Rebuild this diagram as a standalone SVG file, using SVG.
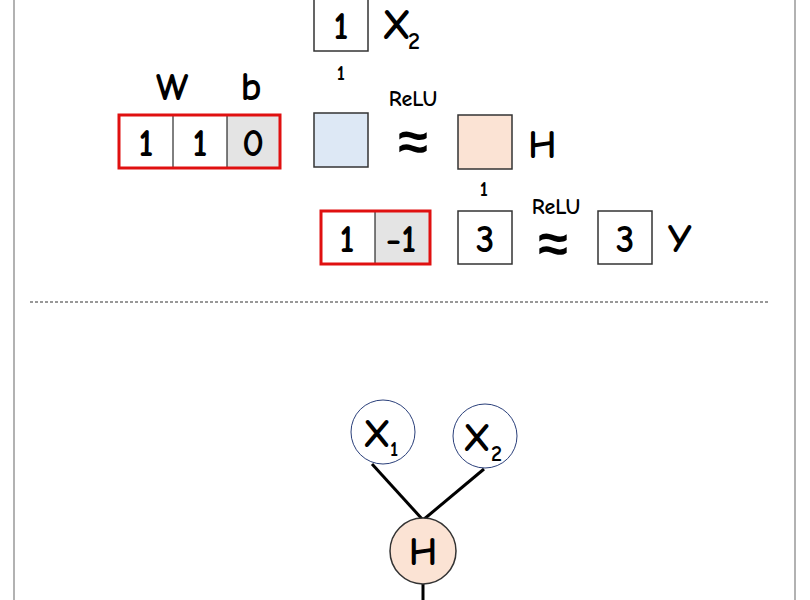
<svg xmlns="http://www.w3.org/2000/svg" width="810" height="600" viewBox="0 0 810 600">
<style>
.t{font-family:"Comic Neue","Liberation Sans",sans-serif;fill:#000;font-weight:bold}
.b{fill:#fff;stroke:#333;stroke-width:1.5}
.r{fill:none;stroke:#e01010;stroke-width:3}
.c{stroke:#000;stroke-width:3}
</style>
<rect width="810" height="600" fill="#fff"/>
<line x1="14" y1="0" x2="14" y2="600" stroke="#999" stroke-width="1.5"/>
<line x1="795" y1="0" x2="795" y2="600" stroke="#999" stroke-width="1.5"/>
<line x1="30" y1="302" x2="770" y2="302" stroke="#333" stroke-dasharray="3,2"/>
<g id="x2box"><rect class="b" x="314" y="-2" width="54" height="53"/><text class="t" x="341" y="39" font-size="38" text-anchor="middle">1</text><text class="t" x="382" y="39" font-size="42">X</text><text class="t" x="408" y="49" font-size="24">2</text><text class="t" x="341" y="80" font-size="21" text-anchor="middle">1</text></g>
<g id="wb"><text class="t" x="172" y="100" font-size="38" text-anchor="middle">W</text><text class="t" x="251" y="100" font-size="40" text-anchor="middle">b</text>
<rect x="227" y="115" width="53" height="53" fill="#e4e4e4"/><line x1="173" y1="115" x2="173" y2="168" stroke="#000"/><line x1="227" y1="115" x2="227" y2="168" stroke="#000"/><rect class="r" x="119" y="115" width="161" height="53"/>
<text class="t" x="146" y="156" font-size="38" text-anchor="middle">1</text><text class="t" x="200" y="156" font-size="38" text-anchor="middle">1</text><text class="t" x="253" y="156" font-size="38" text-anchor="middle">0</text></g>
<g id="blue"><rect x="314" y="113" width="54" height="54" fill="#dde8f5" stroke="#333" stroke-width="1.5"/></g>
<g id="relu1"><text class="t" x="413" y="106" font-size="22" text-anchor="middle">ReLU</text><text class="t" x="413" y="160" font-size="54" text-anchor="middle">≈</text></g>
<g id="h"><rect x="458" y="115" width="54" height="54" fill="#fbe3d4" stroke="#333" stroke-width="1.5"/><text class="t" x="528" y="158" font-size="40">H</text><text class="t" x="484" y="196" font-size="21" text-anchor="middle">1</text></g>
<g id="w2"><rect x="375" y="211" width="55" height="53" fill="#e4e4e4"/><line x1="375" y1="211" x2="375" y2="264" stroke="#000"/><rect class="r" x="321" y="211" width="109" height="53"/><text class="t" x="347" y="252" font-size="38" text-anchor="middle">1</text><text class="t" x="401" y="252" font-size="38" text-anchor="middle">-1</text></g>
<g id="z"><rect class="b" x="458" y="211" width="54" height="53"/><text class="t" x="485" y="252" font-size="38" text-anchor="middle">3</text></g>
<g id="relu2"><text class="t" x="556" y="214" font-size="22" text-anchor="middle">ReLU</text><text class="t" x="553" y="262" font-size="54" text-anchor="middle">≈</text></g>
<g id="y"><rect class="b" x="598" y="211" width="54" height="53"/><text class="t" x="625" y="252" font-size="38" text-anchor="middle">3</text><text class="t" x="668" y="252" font-size="40">Y</text></g>
<g id="connectors"><line class="c" x1="372" y1="464" x2="423" y2="520"/><line class="c" x1="484" y1="469" x2="423" y2="520"/><line class="c" x1="423" y1="584" x2="423" y2="600"/></g>
<g id="nx1"><circle cx="383" cy="432" r="32" fill="#fff" stroke="#2a3f7a"/><text class="t" x="363" y="447" font-size="40">X</text><text class="t" x="390" y="456" font-size="21">1</text></g>
<g id="nx2"><circle cx="485" cy="436" r="32" fill="#fff" stroke="#2a3f7a"/><text class="t" x="463" y="451" font-size="40">X</text><text class="t" x="491" y="461" font-size="22">2</text></g>
<g id="nh"><circle cx="423" cy="551" r="33" fill="#fbe3d4" stroke="#333" stroke-width="1.5"/><text class="t" x="423" y="565" font-size="40" text-anchor="middle">H</text></g>
</svg>
